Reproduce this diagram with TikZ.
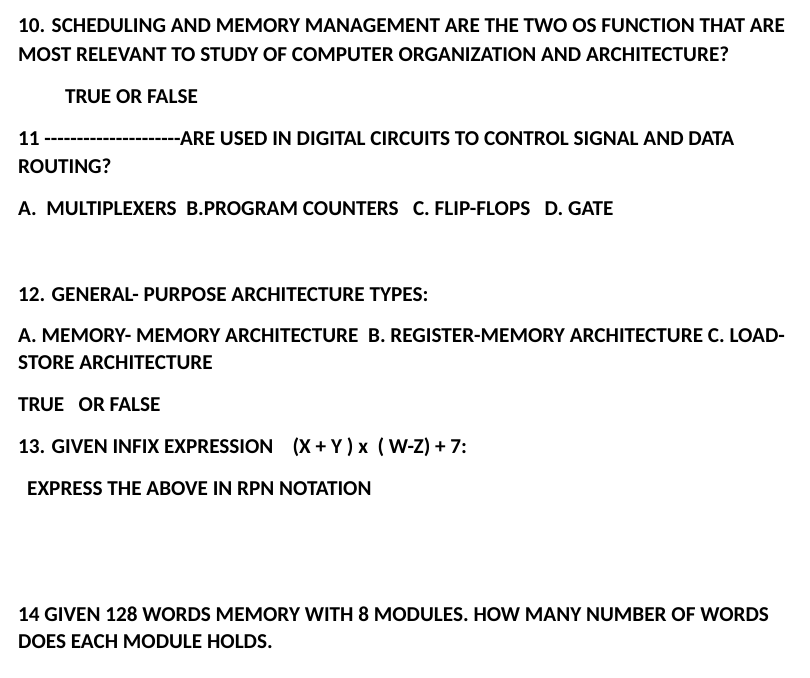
\documentclass[tikz,border=0pt]{standalone}
\usepackage{fontspec}
\setmainfont{Carlito}[Ligatures=TeXOff]
\begin{document}
\begin{tikzpicture}[x=1pt,y=-1pt,t/.style={anchor=base west,inner sep=0pt,font=\bfseries\fontsize{21.2}{24}\selectfont}]
\useasboundingbox[fill=white] (0,0) rectangle (810,677);
\node[t] (l1) at (18,33) {10. SCHEDULING AND MEMORY MANAGEMENT ARE THE TWO OS FUNCTION THAT ARE};
\node[t] (l2) at (18,61) {MOST RELEVANT TO STUDY OF COMPUTER ORGANIZATION AND ARCHITECTURE?};
\node[t] (l3) at (65,103) {TRUE OR FALSE};
\node[t] (l4) at (18,145) {11 ---------------------ARE USED IN DIGITAL CIRCUITS TO CONTROL SIGNAL AND DATA};
\node[t] (l5) at (18,173) {ROUTING?};
\node[t] (l6) at (18,215) {A.\ \ MULTIPLEXERS\ \ B.PROGRAM COUNTERS\ \ \ C. FLIP-FLOPS\ \ \ D. GATE};
\node[t] (l7) at (18,301) {12. GENERAL- PURPOSE ARCHITECTURE TYPES:};
\node[t] (l8) at (18,342) {A. MEMORY- MEMORY ARCHITECTURE\ \ B. REGISTER-MEMORY ARCHITECTURE C. LOAD-};
\node[t] (l9) at (18,369) {STORE ARCHITECTURE};
\node[t] (l10) at (18,411) {TRUE\ \ \ OR FALSE};
\node[t] (l11) at (18,453) {13. GIVEN INFIX EXPRESSION\ \ \ \ (X + Y )\ x\ \ ( W-Z) + 7:};
\node[t] (l12) at (27,495) {EXPRESS THE ABOVE IN RPN NOTATION};
\node[t] (l13) at (18,621) {14 GIVEN 128 WORDS MEMORY WITH 8 MODULES. HOW MANY NUMBER OF WORDS};
\node[t] (l14) at (18,648) {DOES EACH MODULE HOLDS.};
\end{tikzpicture}
\end{document}
